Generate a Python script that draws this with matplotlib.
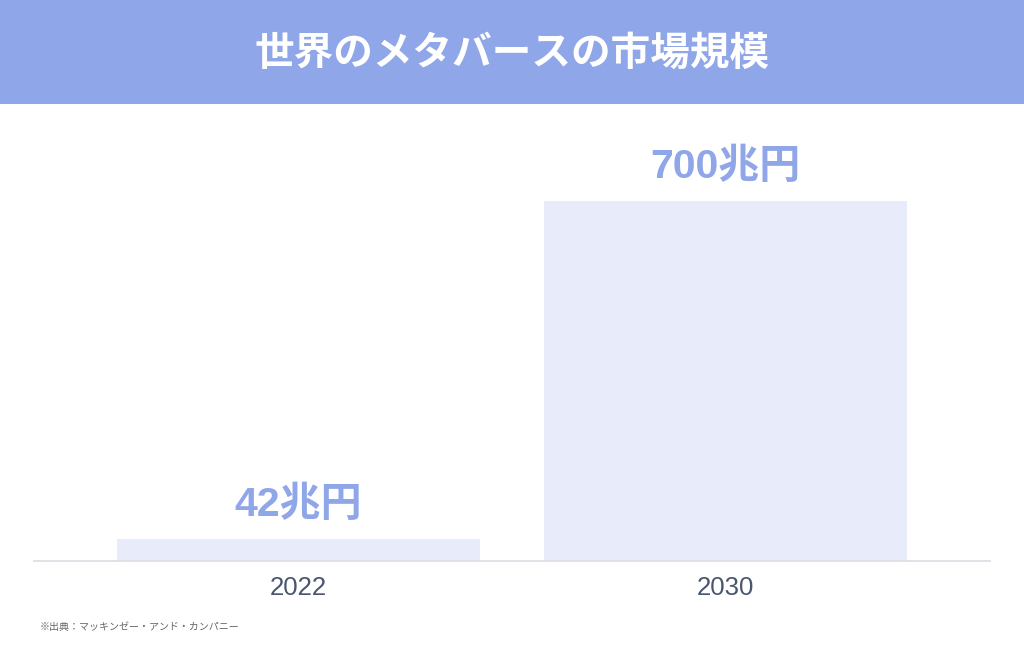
import matplotlib
matplotlib.use('Agg')
import matplotlib.pyplot as plt
from matplotlib.patches import Rectangle

plt.rcParams['font.family'] = ['Noto Sans CJK JP', 'DejaVu Sans']

title = '世界のメタバースの市場規模'
source = '※出典：マッキンゼー・アンド・カンパニー'
years = ['2022', '2030']
market_size = [42, 700]          # 兆円
value_labels = ['42兆円', '700兆円']

band_color = '#8fa6e8'
bar_color = '#e8ebf9'
label_color = '#8fa6e8'
tick_color = '#4a5570'

W, H = 1024, 658
fig = plt.figure(figsize=(W / 100, H / 100), dpi=100)
fig.patch.set_facecolor('white')

# title band
fig.patches.append(Rectangle((0, 1 - 104 / H), 1, 104 / H, transform=fig.transFigure,
                             facecolor=band_color, edgecolor='none', zorder=0))
fig.text(0.5, 1 - 53 / H, title, color='white', fontsize=28.5, fontweight='bold',
         ha='center', va='center')

# axes: x 34..990, y 105..561 in pixels
ax = fig.add_axes([34 / W, 1 - 561 / H, (990 - 34) / W, (561 - 105) / H])
x = range(len(years))
ax.bar(x, market_size, width=0.851, color=bar_color, zorder=2)
ax.set_xlim(-0.62, 1.62)
ax.set_ylim(0, 886.7)

for xi, v, lab in zip(x, market_size, value_labels):
    ax.annotate(lab, (xi, v), xytext=(0, 11), textcoords='offset points',
                ha='center', va='bottom', fontsize=29.5, fontweight='bold', color=label_color,
                family=['Liberation Sans', 'Noto Sans CJK JP'])

ax.set_xticks(list(x))
ax.set_xticklabels(years, fontsize=18.5, color=tick_color, family='Liberation Sans')
ax.tick_params(axis='x', length=0, pad=11)
ax.set_yticks([])
for side in ['top', 'right', 'left']:
    ax.spines[side].set_visible(False)
ax.spines['bottom'].set_color('#dcdde4')
ax.spines['bottom'].set_linewidth(1.2)
ax.set_facecolor('none')

fig.text(40 / W, 1 - 627 / H, source, color='#666666', fontsize=7.2, ha='left', va='center')

fig.savefig('out.png', dpi=100)
